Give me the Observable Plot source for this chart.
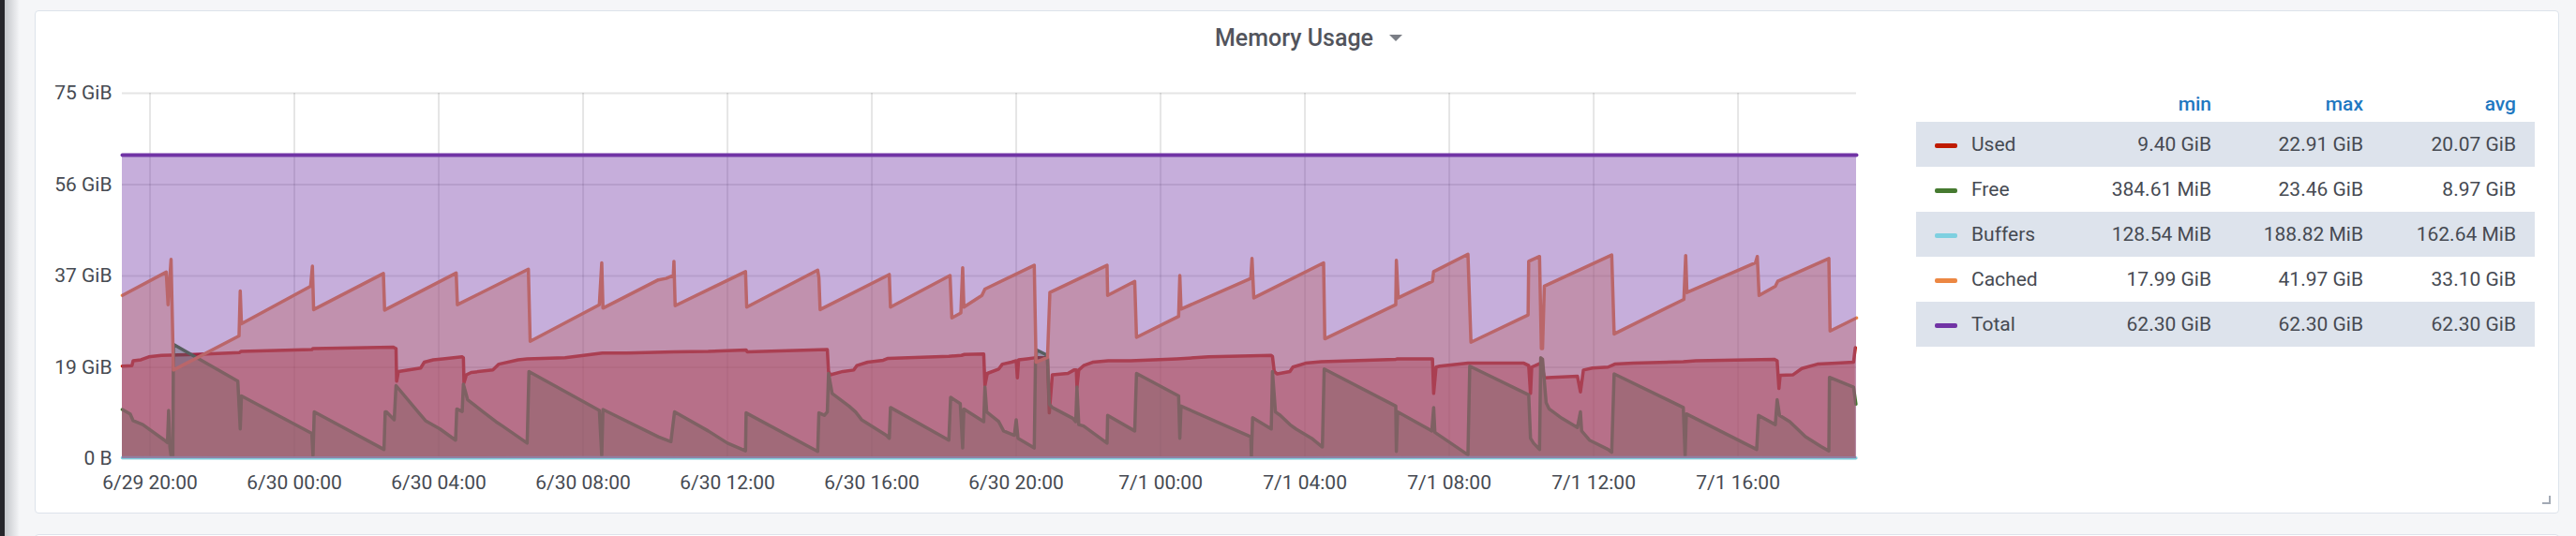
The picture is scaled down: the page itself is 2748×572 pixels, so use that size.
<!DOCTYPE html>
<html>
<head>
<meta charset="utf-8">
<script src="https://cdn.jsdelivr.net/npm/d3@7"></script>
<script src="https://cdn.jsdelivr.net/npm/@observablehq/plot@0.6"></script>
<style>
html, body { margin:0; padding:0; width:2748px; height:572px; overflow:hidden; background:#f5f6f8; font-family: Roboto, "Helvetica Neue", Arial, sans-serif; }
#sidebar { position:absolute; left:0; top:0; width:5px; height:572px; background:#26262b; }
#shade { position:absolute; left:5px; top:0; width:16px; height:572px; background:linear-gradient(to right, #c4c6ca, #f5f6f8); }
#panel { position:absolute; left:37px; top:11px; width:2693px; height:537px; background:#fff; border:1px solid #dde3eb; border-radius:4px; box-sizing:border-box; }
#panel2 { position:absolute; left:37px; top:570px; width:2693px; height:30px; background:#fff; border:1px solid #dde3eb; border-radius:4px; box-sizing:border-box; }
#title { position:absolute; left:1296px; top:26px; line-height:30px; font-size:25px; font-weight:500; color:#52545c; white-space:nowrap; }
#caret { position:absolute; left:1482px; top:37px; width:0; height:0; border-left:7px solid transparent; border-right:7px solid transparent; border-top:7px solid #7b7e86; }
#chart { position:absolute; left:0; top:0; }
.lg { position:absolute; font-size:21px; line-height:48px; color:#464a52; white-space:nowrap; }
.hd { position:absolute; font-size:21px; line-height:24px; font-weight:500; color:#1f78c1; white-space:nowrap; text-align:right; width:200px; }
.rowbg { position:absolute; left:2044px; width:660px; height:48px; background:#dde3ec; }
.sw { position:absolute; left:2064px; width:24px; height:5px; border-radius:2px; }
#grip { position:absolute; left:2712px; top:529px; width:7px; height:7px; border-right:2px solid #a3aab5; border-bottom:2px solid #a3aab5; }
</style>
</head>
<body>
<div id="sidebar"></div>
<div id="shade"></div>
<div id="panel"></div>
<div id="panel2"></div>
<div id="title">Memory Usage</div>
<div id="caret"></div>
<div id="legend"></div>
<div id="grip"></div>
<script>
// ---------- data (GiB) ----------
const used = [["06-29 19:14",19.0],["06-29 19:30",19.1],["06-29 19:32",20.1],["06-29 19:45",20.3],["06-29 19:58",20.9],["06-29 20:19",21.2],["06-29 21:16",21.4],["06-29 22:29",21.8],["06-29 22:31",22.0],["06-30 00:29",22.4],
["06-30 00:31",22.6],["06-30 02:44",22.9],["06-30 02:49",22.6],["06-30 02:50",15.9],["06-30 02:53",17.9],["06-30 03:25",18.5],["06-30 03:30",18.6],["06-30 03:36",19.8],["06-30 03:51",20.3],["06-30 04:07",20.5],
["06-30 04:39",20.9],["06-30 04:41",20.7],["06-30 04:42",15.6],["06-30 04:46",17.2],["06-30 04:54",17.7],["06-30 05:30",18.2],["06-30 05:40",19.4],["06-30 06:12",20.3],["06-30 06:27",20.5],["06-30 07:30",20.7],
["06-30 08:01",21.2],["06-30 08:32",21.7],["06-30 09:13",21.7],["06-30 10:31",21.9],["06-30 11:28",22.0],["06-30 12:31",22.3],["06-30 12:33",21.9],["06-30 14:46",22.4],["06-30 14:48",17.9],["06-30 14:51",17.2],
["06-30 15:12",17.9],["06-30 15:30",18.2],["06-30 15:35",19.1],["06-30 15:53",19.8],["06-30 16:19",20.2],["06-30 16:27",20.6],["06-30 18:08",21.0],["06-30 18:29",21.2],["06-30 18:34",21.4],["06-30 19:06",21.5],
["06-30 19:08",15.0],["06-30 19:12",17.5],["06-30 19:31",18.4],["06-30 19:37",19.4],["06-30 19:52",19.8],["06-30 20:00",20.1],["06-30 20:02",16.6],["06-30 20:04",20.3],["06-30 20:18",20.5],["06-30 20:30",20.7],
["06-30 20:52",20.7],["06-30 20:55",9.4],["06-30 21:00",17.2],["06-30 21:26",17.5],["06-30 21:36",18.2],["06-30 21:40",18.2],["06-30 21:41",14.7],["06-30 21:44",18.2],["06-30 21:52",19.1],["06-30 22:07",19.8],
["06-30 22:33",20.1],["06-30 23:10",20.1],["07-01 00:27",20.5],["07-01 01:20",20.9],["07-01 03:04",21.2],["07-01 03:06",21.0],["07-01 03:09",17.9],["07-01 03:14",17.4],["07-01 03:35",17.9],["07-01 03:40",18.8],
["07-01 04:01",19.6],["07-01 04:27",19.9],["07-01 06:31",20.4],["07-01 06:34",20.5],["07-01 07:32",20.5],["07-01 07:34",13.4],["07-01 07:38",18.8],["07-01 07:44",19.0],["07-01 08:31",19.6],["07-01 10:04",19.6],
["07-01 10:12",19.1],["07-01 10:15",13.4],["07-01 10:17",18.8],["07-01 10:30",19.5],["07-01 10:33",19.8],["07-01 10:38",16.6],["07-01 10:51",16.7],["07-01 11:33",16.9],["07-01 11:38",13.7],["07-01 11:43",18.2],
["07-01 11:58",18.6],["07-01 12:24",18.8],["07-01 12:35",19.4],["07-01 13:06",19.6],["07-01 14:29",19.9],["07-01 14:50",20.1],["07-01 17:00",20.4],["07-01 17:05",20.1],["07-01 17:08",14.4],["07-01 17:10",17.1],
["07-01 17:31",17.2],["07-01 17:46",18.5],["07-01 18:12",19.4],["07-01 18:44",19.6],["07-01 19:12",19.8],["07-01 19:15",22.8]];

const free = [["06-29 19:14",10.1],["06-29 19:27",9.2],["06-29 19:32",7.8],["06-29 19:48",7.0],["06-29 20:24",3.8],["06-29 20:29",3.3],["06-29 20:31",9.9],["06-29 20:33",2.5],["06-29 20:35",0.6],["06-29 20:38",0.6],
["06-29 20:39",23.46],["06-29 22:26",15.9],["06-29 22:30",6.1],["06-29 22:32",12.9],["06-30 00:29",5.2],["06-30 00:31",0.6],["06-30 00:33",9.6],["06-30 02:29",1.9],["06-30 02:31",9.6],["06-30 02:33",9.6],
["06-30 02:46",8.0],["06-30 02:49",15.0],["06-30 03:25",9.7],["06-30 03:38",7.8],["06-30 04:02",6.1],["06-30 04:28",3.8],["06-30 04:30",10.2],["06-30 04:39",9.7],["06-30 04:41",15.3],["06-30 04:48",12.1],
["06-30 05:14",9.6],["06-30 05:35",7.6],["06-30 05:46",6.7],["06-30 06:27",3.2],["06-30 06:30",17.9],["06-30 08:27",9.9],["06-30 08:31",0.6],["06-30 08:33",10.1],["06-30 10:05",4.5],["06-30 10:26",3.5],
["06-30 10:32",9.6],["06-30 11:28",5.7],["06-30 12:00",3.2],["06-30 12:30",1.6],["06-30 12:31",9.4],["06-30 14:30",1.5],["06-30 14:32",9.4],["06-30 14:41",8.9],["06-30 14:46",9.6],["06-30 14:48",17.5],
["06-30 14:54",13.4],["06-30 15:22",10.8],["06-30 15:33",9.6],["06-30 15:43",8.0],["06-30 16:24",4.8],["06-30 16:29",4.2],["06-30 16:31",10.5],["06-30 18:08",3.8],["06-30 18:11",12.6],["06-30 18:27",11.3],
["06-30 18:31",2.2],["06-30 18:33",10.2],["06-30 19:06",7.6],["06-30 19:08",14.7],["06-30 19:11",9.6],["06-30 19:31",7.6],["06-30 19:39",5.7],["06-30 19:57",4.8],["06-30 20:00",8.0],["06-30 20:03",4.2],
["06-30 20:30",2.2],["06-30 20:32",19.8],["06-30 20:34",22.3],["06-30 20:49",21.4],["06-30 20:52",20.5],["06-30 20:55",11.2],["06-30 21:00",10.5],["06-30 21:34",8.3],["06-30 21:39",7.6],["06-30 21:41",14.7],
["06-30 21:44",7.0],["06-30 21:52",6.7],["06-30 22:31",3.2],["06-30 22:32",8.9],["06-30 23:17",5.7],["06-30 23:20",17.5],["07-01 00:30",12.9],["07-01 00:32",4.2],["07-01 00:34",10.8],["07-01 02:30",4.5],
["07-01 02:31",0.38],["07-01 02:33",8.4],["07-01 03:04",6.1],["07-01 03:06",17.9],["07-01 03:11",9.6],["07-01 03:19",8.9],["07-01 03:35",7.0],["07-01 03:45",6.1],["07-01 04:11",4.2],["07-01 04:29",2.4],
["07-01 04:32",18.4],["07-01 06:31",10.8],["07-01 06:32",1.5],["07-01 06:34",9.6],["07-01 07:31",5.7],["07-01 07:34",10.5],["07-01 07:36",5.4],["07-01 08:31",0.8],["07-01 08:34",19.0],["07-01 10:12",13.1],
["07-01 10:15",4.2],["07-01 10:20",3.2],["07-01 10:30",1.9],["07-01 10:32",20.7],["07-01 10:35",20.4],["07-01 10:41",11.5],["07-01 10:46",10.2],["07-01 11:07",8.3],["07-01 11:33",6.4],["07-01 11:38",9.6],
["07-01 11:40",5.7],["07-01 11:53",3.8],["07-01 12:24",1.9],["07-01 12:30",1.3],["07-01 12:34",17.4],["07-01 14:29",10.5],["07-01 14:32",0.6],["07-01 14:34",9.2],["07-01 16:31",1.9],["07-01 16:34",8.9],
["07-01 17:02",7.0],["07-01 17:05",12.1],["07-01 17:09",8.9],["07-01 17:26",7.6],["07-01 17:52",4.5],["07-01 18:18",2.5],["07-01 18:31",1.6],["07-01 18:32",16.7],["07-01 19:12",14.7],["07-01 19:16",11.2]];

const buffers = [["06-29 19:14",0.17],["06-30 02:50",0.15],["06-30 08:00",0.17],["06-30 14:48",0.14],["06-30 20:55",0.13],["07-01 03:10",0.16],["07-01 10:30",0.18],["07-01 16:00",0.17],["07-01 19:16",0.16]];

const cached = [["06-29 19:14",33.5],["06-29 20:27",38.3],["06-29 20:30",31.6],["06-29 20:35",40.9],["06-29 20:39",18.2],["06-29 22:28",25.2],["06-29 22:30",34.4],["06-29 22:32",27.7],["06-30 00:27",35.4],["06-30 00:30",39.5],
["06-30 00:32",30.6],["06-30 02:28",38.0],["06-30 02:30",30.5],["06-30 04:29",38.1],["06-30 04:31",31.6],["06-30 06:29",38.9],["06-30 06:32",24.1],["06-30 08:27",31.6],["06-30 08:31",40.2],["06-30 08:33",30.9],
["06-30 10:05",36.7],["06-30 10:18",37.0],["06-30 10:30",37.6],["06-30 10:31",40.5],["06-30 10:33",31.4],["06-30 12:30",38.4],["06-30 12:32",31.1],["06-30 14:30",38.7],["06-30 14:32",37.1],["06-30 14:34",30.6],
["06-30 16:29",37.8],["06-30 16:31",31.1],["06-30 18:10",37.6],["06-30 18:13",28.9],["06-30 18:28",29.9],["06-30 18:31",39.2],["06-30 18:33",31.1],["06-30 19:03",33.5],["06-30 19:08",34.8],["06-30 20:30",39.7],
["06-30 20:33",19.8],["06-30 20:52",20.8],["06-30 20:56",34.1],["06-30 22:31",39.7],["06-30 22:32",33.5],["06-30 23:17",36.4],["06-30 23:20",24.9],["07-01 00:30",29.2],["07-01 00:32",37.6],["07-01 00:34",30.7],
["07-01 02:30",37.0],["07-01 02:32",41.1],["07-01 02:35",33.0],["07-01 04:31",40.2],["07-01 04:33",24.6],["07-01 06:31",31.6],["07-01 06:32",40.7],["07-01 06:35",33.0],["07-01 07:32",36.4],["07-01 07:34",38.4],
["07-01 08:31",41.97],["07-01 08:36",23.9],["07-01 10:11",29.5],["07-01 10:12",40.5],["07-01 10:30",41.5],["07-01 10:33",22.6],["07-01 10:35",22.6],["07-01 10:38",35.4],["07-01 12:30",41.8],["07-01 12:34",25.6],
["07-01 14:30",32.7],["07-01 14:33",41.7],["07-01 14:35",34.1],["07-01 16:29",40.2],["07-01 16:32",41.5],["07-01 16:35",33.5],["07-01 17:02",35.4],["07-01 17:06",36.4],["07-01 18:31",41.1],["07-01 18:33",26.2],
["07-01 19:17",28.9]];

const total = [["06-29 19:14",62.3],["07-01 19:17",62.3]];

const seriesNames = ["Used","Free","Buffers","Cached","Total"];
const seriesColors = ["#bf1b00","#467a30","#7ed0e0","#ec8743","#7134a5"];
const legendMin = ["9.40 GiB","384.61 MiB","128.54 MiB","17.99 GiB","62.30 GiB"];
const legendMax = ["22.91 GiB","23.46 GiB","188.82 MiB","41.97 GiB","62.30 GiB"];
const legendAvg = ["20.07 GiB","8.97 GiB","162.64 MiB","33.10 GiB","62.30 GiB"];
const legendHeaders = ["min","max","avg"];

const yTicks = [0, 18.75, 37.5, 56.25, 75];
const yTickLabels = ["0 B","19 GiB","37 GiB","56 GiB","75 GiB"];
const xStart = "06-29 19:14", xEnd = "07-01 19:17";

// ---------- build ----------
const parseT = d3.utcParse("%Y-%m-%d %H:%M");
const T = s => parseT("2018-" + s);
const allSeries = [used, free, buffers, cached, total].map((arr, k) =>
  arr.map(([t, v]) => ({name: seriesNames[k], t: T(t), v})));

const domainX = [T(xStart), T(xEnd)];
const xTicks = d3.utcHour.every(4).range(domainX[0], domainX[1]);
const yLabel = new Map(yTicks.map((v, i) => [v, yTickLabels[i]]));

const marks = [
  Plot.gridY({ticks: yTicks, stroke: "#000", strokeOpacity: 0.1, strokeWidth: 2}),
  Plot.gridX({ticks: xTicks, stroke: "#000", strokeOpacity: 0.1, strokeWidth: 2}),
];
allSeries.forEach((data, k) => {
  marks.push(Plot.areaY(data, {x: "t", y: "v", fill: seriesColors[k], fillOpacity: 0.4}));
  marks.push(Plot.lineY(data, {x: "t", y: "v", stroke: seriesColors[k], strokeWidth: k === 4 ? 4 : 3.5, strokeLinejoin: "round"}));
});
marks.push(Plot.axisY({ticks: yTicks, tickFormat: d => yLabel.get(d), tickSize: 0, tickPadding: 11, label: null}));
marks.push(Plot.axisX({ticks: xTicks, tickFormat: d3.utcFormat("%-m/%-d %H:%M"), tickSize: 0, tickPadding: 18, label: null}));

const chart = Plot.plot({
  width: 2000,
  height: 545,
  marginLeft: 130,
  marginRight: 20,
  marginTop: 99,
  marginBottom: 56,
  x: {type: "utc", domain: domainX},
  y: {domain: [0, 75]},
  style: {background: "transparent", fontFamily: "Roboto, sans-serif", fontSize: "21px", color: "#464a52", overflow: "visible"},
  marks
});
chart.id = "chart";
document.body.appendChild(chart);

// ---------- legend table ----------
const lg = document.getElementById("legend");
const colRight = [2359, 2521, 2684];
legendHeaders.forEach((h, j) => {
  const d = document.createElement("div");
  d.className = "hd";
  d.style.left = (colRight[j] - 200) + "px";
  d.style.top = "99px";
  d.textContent = h;
  lg.appendChild(d);
});
seriesNames.forEach((name, i) => {
  const top = 130 + 48 * i;
  if (i % 2 === 0) {
    const bg = document.createElement("div");
    bg.className = "rowbg";
    bg.style.top = top + "px";
    lg.appendChild(bg);
  }
  const sw = document.createElement("div");
  sw.className = "sw";
  sw.style.top = (top + 23) + "px";
  sw.style.background = seriesColors[i];
  lg.appendChild(sw);
  const nm = document.createElement("div");
  nm.className = "lg";
  nm.style.left = "2103px";
  nm.style.top = top + "px";
  nm.textContent = name;
  lg.appendChild(nm);
  [legendMin[i], legendMax[i], legendAvg[i]].forEach((val, j) => {
    const c = document.createElement("div");
    c.className = "lg";
    c.style.left = (colRight[j] - 200) + "px";
    c.style.width = "200px";
    c.style.textAlign = "right";
    c.style.top = top + "px";
    c.textContent = val;
    lg.appendChild(c);
  });
});
</script>
</body>
</html>
